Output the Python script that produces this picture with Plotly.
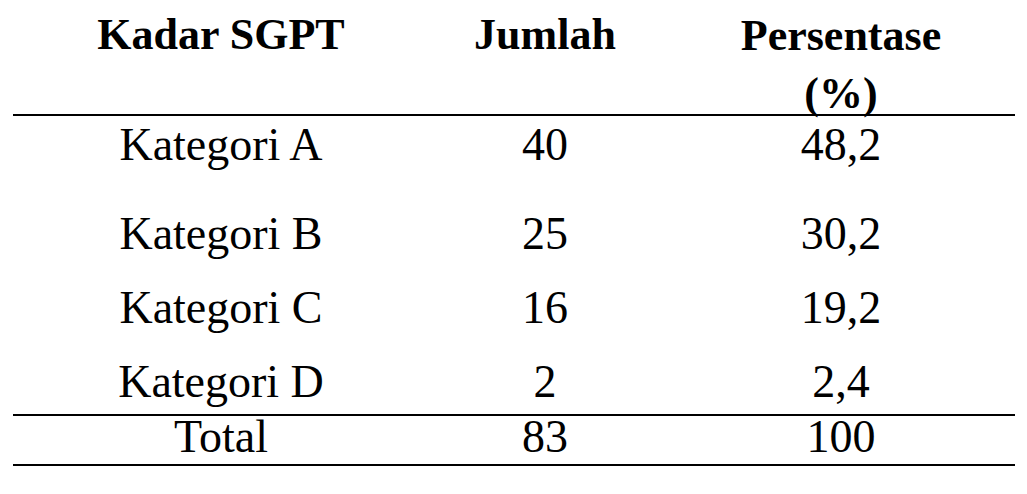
import plotly.graph_objects as go

# table data
headers = ["<b>Kadar SGPT</b>", "<b>Jumlah</b>", "<b>Persentase</b><br><b>(%)</b>"]
categories = ["Kategori A", "Kategori B", "Kategori C", "Kategori D", "Total"]
jumlah = ["40", "25", "16", "2", "83"]
persentase = ["48,2", "30,2", "19,2", "2,4", "100"]

# layout (pixel positions)
W, H = 1027, 494
col_x = [213, 537, 833]
row_y = [140, 229, 303, 377, 432]
font = "Liberation Serif, Times New Roman, serif"

fig = go.Figure()

# header
fig.add_trace(go.Scatter(
    x=col_x, y=[30, 30, 60], mode="text", text=headers,
    textfont=dict(family=font, size=44, color="black"),
    hoverinfo="skip", showlegend=False))

# body columns
for cx, col in zip(col_x, [categories, jumlah, persentase]):
    fig.add_trace(go.Scatter(
        x=[cx] * len(col), y=row_y, mode="text", text=col,
        textfont=dict(family=font, size=46, color="black"),
        hoverinfo="skip", showlegend=False))

for y in [-2, 107, 407, 457]:
    fig.add_shape(type="line", x0=5, x1=1007, y0=y, y1=y,
                  line=dict(color="black", width=2))

fig.update_xaxes(range=[0, W], visible=False)
fig.update_yaxes(range=[H, 0], visible=False)
fig.update_layout(width=W, height=H, margin=dict(l=0, r=0, t=0, b=0),
                  plot_bgcolor="white", paper_bgcolor="white")

fig.write_html("out.html")
